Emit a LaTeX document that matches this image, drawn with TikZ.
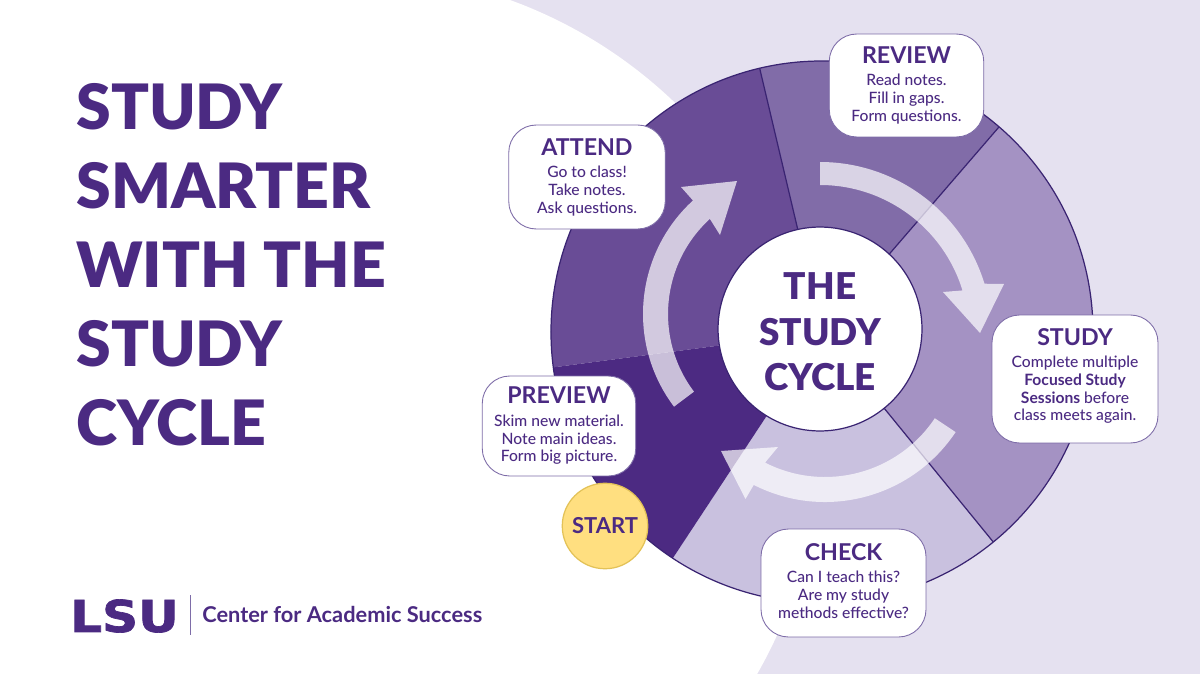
\documentclass[tikz,border=0pt]{standalone}
\usepackage{fontspec}
\setmainfont{Lato Medium}[BoldFont={Lato Bold}]
\newfontfamily\heavyfont{Lato Black}
\newfontfamily\logofont[FakeBold=1.5]{DejaVu Sans Bold}
\definecolor{paper}{HTML}{E5E1F0}
\definecolor{ink}{HTML}{4B2A82}
\definecolor{ringline}{HTML}{3A2472}
\definecolor{attendfill}{HTML}{694C96}
\definecolor{reviewfill}{HTML}{816CA8}
\definecolor{studyfill}{HTML}{A492C3}
\definecolor{checkfill}{HTML}{C9C1DF}
\definecolor{previewfill}{HTML}{4C2A82}
\definecolor{cardline}{HTML}{7E6DA8}
\definecolor{startfill}{HTML}{FFDF80}
\definecolor{startline}{HTML}{E3C257}
\newcommand{\cardhead}[1]{{\fontsize{13.2pt}{13.2pt}\selectfont\bfseries #1}\\[2.4pt]}
\tikzset{
	card/.style={draw=cardline, line width=0.5pt, fill=white, rounded corners=0.55cm, align=center, text=ink, inner sep=0pt, font=\fontsize{8.9pt}{10.2pt}\selectfont},
	band/.style={white, opacity=0.7},
	spoke/.style={ringline, line width=0.7pt}
}
\begin{document}
\begin{tikzpicture}[x=0.02cm, y=0.02cm]
\useasboundingbox (0,0) rectangle (1200,674);
\fill[paper] (0,0) rectangle (1200,674);
\fill[white] (0,0) rectangle (350,674);
\begin{scope}
	\clip (0,0) rectangle (1200,674);
	\fill[white] (350,233) circle (469);
\end{scope}
% wheel
\coordinate (hub) at (822,342);
\foreach \a / \b / \c in {103.3/187.5/attendfill, 49.2/103.3/reviewfill, -50.8/49.2/studyfill, -123.4/-50.8/checkfill, -172.5/-123.4/previewfill}
{
	\fill[\c] (hub) -- ++(\a:271) arc[start angle=\a, end angle=\b, radius=271] -- cycle;
}
\foreach \a in {103.3, 49.2, -50.8}
{
	\draw[spoke] (hub) -- ++(\a:271);
}
\draw[spoke] (hub) circle (271);
% arrows
\coordinate (c1) at (797,360);
\coordinate (c2) at (820,340);
\coordinate (c3) at (825,329);
\fill[band] ([shift={(c1)}]217:154) arc[start angle=217, end angle=132.5, radius=154] -- (681,487) -- (737,493) -- (720,439) -- ([shift={(c1)}]132.5:129) arc[start angle=132.5, end angle=217, radius=129] -- cycle;
\fill[band] ([shift={(c2)}]90:172) arc[start angle=90, end angle=17, radius=172] -- (1004,390) -- (980,341) -- (943,382) -- ([shift={(c2)}]17:149) arc[start angle=17, end angle=90, radius=149] -- cycle;
\fill[band] ([shift={(c3)}]-33.7:157) arc[start angle=-33.7, end angle=-117, radius=157] -- (745.5,175) -- (721,223) -- (778,227) -- ([shift={(c3)}]-117:132) arc[start angle=-117, end angle=-33.7, radius=132] -- cycle;
\node[circle, draw=ringline, line width=0.7pt, fill=white, minimum size=4.08cm, inner sep=0pt] (cycle) at (820,345) {};
\node[align=center, text=ink, inner sep=0pt, font=\heavyfont\fontsize{21pt}{25.9pt}\selectfont] (cycletext) at (820,342) {THE\\STUDY\\CYCLE};
% cards
\node[card, minimum width=3.09cm, minimum height=2.06cm] (review) at (906.5,588.5) {\cardhead{REVIEW}Read notes.\\Fill in gaps.\\Form questions.};
\node[card, minimum width=3.13cm, minimum height=2.08cm] (attend) at (587,497) {\cardhead{ATTEND}Go to class!\\Take notes.\\Ask questions.};
\node[card, minimum width=3.32cm, minimum height=2.56cm] (study) at (1075,295) {\cardhead{STUDY}Complete multiple\\\textbf{Focused Study}\\\textbf{Sessions} before\\class meets again.\\[-5.1pt]};
\node[card, minimum width=3.30cm, minimum height=2.16cm] (check) at (843.5,91) {\cardhead{CHECK}Can I teach this?\\Are my study\\methods effective?\\[-8pt]};
\node[card, minimum width=3.07cm, minimum height=2.00cm] (preview) at (559,248) {\cardhead{PREVIEW}Skim new material.\\Note main ideas.\\Form big picture.};
\node[circle, draw=startline, line width=0.7pt, fill=startfill, minimum size=1.71cm, inner sep=0pt, text=ink, font=\fontsize{12.5pt}{12.5pt}\selectfont\bfseries] (start) at (605,148) {START};
% title
\node[anchor=west, align=left, inner sep=0pt, text=ink, font=\heavyfont\fontsize{35.6pt}{45pt}\selectfont] (title) at (76,409.5) {STUDY\\SMARTER\\WITH THE\\STUDY\\CYCLE};
% logo
\node[inner sep=0pt, text=ink, xscale=1.14, font=\logofont\fontsize{25pt}{25pt}\selectfont] (lsu) at (124.5,58) {LSU};
\coordinate (bartop) at (190,79);
\coordinate (barend) at (190,39);
\draw[cardline, line width=0.5pt] (bartop) -- (barend);
\node[anchor=west, inner sep=0pt, text=ink, font=\fontsize{12.4pt}{12.4pt}\selectfont\bfseries] (centre) at (202,60) {Center for Academic Success};
\end{tikzpicture}
\end{document}
